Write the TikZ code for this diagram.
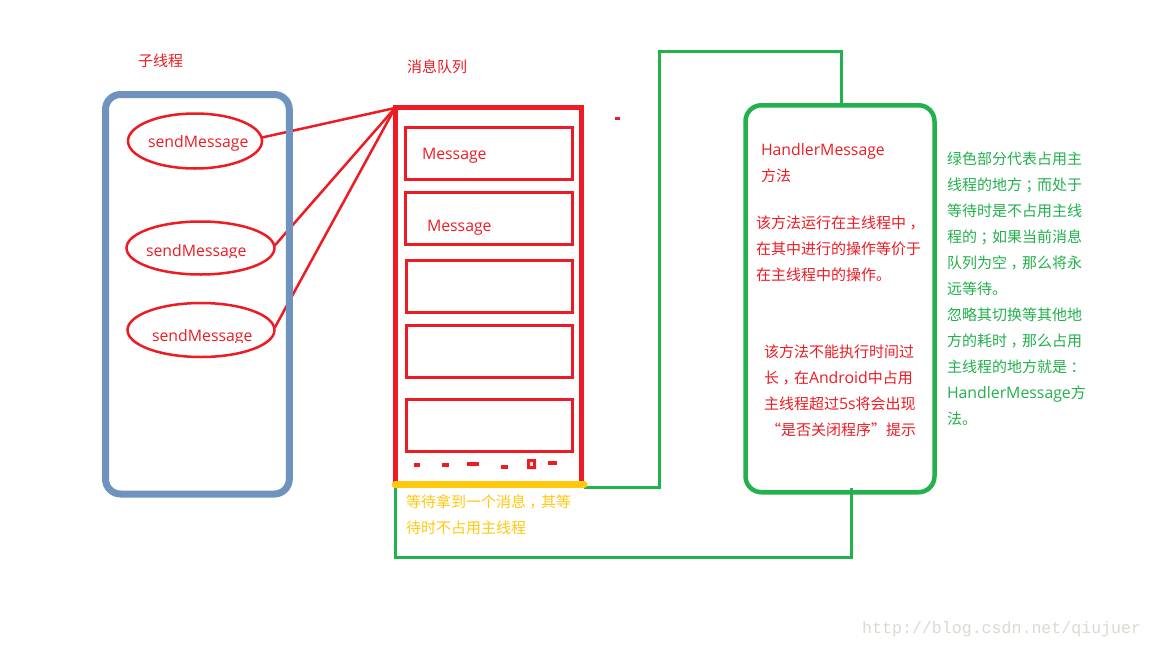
\documentclass[tikz,border=0pt]{standalone}
\usepackage{fontspec}
\setmainfont{Noto Sans CJK SC}
\newfontfamily\wmfont{Liberation Mono}
\newfontfamily\latf[Scale=1.055]{Open Sans}
\newcommand{\pc}[1]{\hspace{3.5pt}#1\hspace{-3.5pt}}
\definecolor{rd}{HTML}{ED1C24}
\definecolor{grn}{HTML}{22B14C}
\definecolor{blu}{HTML}{7092BE}
\definecolor{yel}{HTML}{FFC90E}
\tikzset{
  txt/.style={inner sep=0pt,outer sep=0pt,anchor=base west,align=left,font=\fontsize{15}{26}\selectfont},
  slot/.style={draw=rd,line width=3pt,fill=none},
  tick/.style={fill=rd,draw=none},
  wire/.style={draw=grn,line width=3pt},
  feed/.style={draw=rd,line width=2.5pt}
}
\usetikzlibrary{shapes.geometric}
\begin{document}
\begin{tikzpicture}[x=1pt,y=-1pt]
\useasboundingbox (0,0) rectangle (1152,648);
\fill[white] (0,0) rectangle (1152,648);

% green connectors
\coordinate (barL) at (395.3,484.8);
\coordinate (barR) at (584,484.8);
\coordinate (upA) at (659.3,487.3);
\coordinate (upB) at (659.3,51);
\coordinate (hTop) at (841,105);
\coordinate (hBot) at (851.3,487.7);
\coordinate (loA) at (851.3,557.3);
\coordinate (loB) at (395.3,557.3);
\draw[wire] (barR |- upA) -- (upA) -- (upB) -| (hTop);
\draw[wire] (hBot) -- (loA) -- (loB) -- (barL);

% queue
\node[draw=rd,line width=5pt,minimum width=185.8pt,minimum height=375.5pt,inner sep=0pt,outer sep=0pt] (queue) at (488.6,295.25) {};
\coordinate (qc) at (395,108);

% ovals
\node[ellipse,draw=none,minimum width=135pt,minimum height=56pt,inner sep=0pt] (e1) at (195,141) {};
\node[ellipse,draw=none,minimum width=149pt,minimum height=54pt,inner sep=0pt] (e2) at (200.5,248) {};
\node[ellipse,draw=none,minimum width=148pt,minimum height=55pt,inner sep=0pt] (e3) at (201,330) {};

\draw[feed] (e1.3) -- (qc);
\draw[feed] (e2.2) -- (qc);
\draw[feed] (e3.2) -- (qc);

% blue box
\node[draw=blu,line width=7pt,rounded corners=15pt,minimum width=183.8pt,minimum height=399.5pt,inner sep=0pt] (thread) at (197.4,294.25) {};

% oval outlines on top
\draw[rd,line width=2.5pt] (195,141) ellipse [x radius=67,y radius=27.5];
\draw[rd,line width=2.5pt] (200.5,248) ellipse [x radius=74,y radius=26.5];
\draw[rd,line width=2.5pt] (201,330) ellipse [x radius=73.5,y radius=27];

\node[txt,text=rd] (t1) at (148,147) {\latf sendMessage};
\begin{scope}
\clip (130,235) rectangle (270,257);
\node[txt,text=rd] (t2) at (146,256) {\latf sendMessage};
\end{scope}
\begin{scope}
\clip (130,320) rectangle (270,342.5);
\node[txt,text=rd] (t3) at (152,341.5) {\latf sendMessage};
\end{scope}

% slots
\draw[slot] (405,127) rectangle (572,179.5);
\draw[slot] (405,192) rectangle (572,244.5);
\draw[slot] (406,260) rectangle (572.5,312.5);
\draw[slot] (406,325) rectangle (572.5,377.5);
\draw[slot] (406.5,399.5) rectangle (572.5,451.2);

\node[txt,text=rd] (m1) at (422,159) {\latf Message};
\node[txt,text=rd] (m2) at (427,231) {\latf Message};

% ticks
\fill[tick] (414,463) rectangle (420,467);
\fill[tick] (442,463) rectangle (449,467);
\fill[tick] (467,462) rectangle (479,466);
\fill[tick] (501,465) rectangle (508,469);
\fill[tick,even odd rule] (527,459) rectangle (536,469) (530,462) rectangle (533,466);
\fill[tick] (548,461) rectangle (557,465);
\fill[tick] (615,117) rectangle (620,120);

% yellow bar
\draw[yel,line width=7pt,line cap=round] (barL) -- (barR);

% handler
\node[draw=grn,line width=4.5pt,rounded corners=16pt,minimum width=189pt,minimum height=387pt,inner sep=0pt] (handler) at (840,298.75) {};

% labels
\node[txt,text=rd] (lt) at (138,66) {子线程};
\node[txt,text=rd] (lq) at (407,72) {消息队列};
\node[txt,text=yel,anchor=north west] (ly) at (406,495) {等待拿到一个消息\pc{，}其等\\待时不占用主线程};
\node[txt,text=rd] (hm) at (761,155.5) {\latf HandlerMessage};
\node[txt,text=rd] (hf) at (761,181) {方法};
\node[txt,text=rd,anchor=north west] (b1) at (756,216) {该方法运行在主线程中\pc{，}\\在其中进行的操作等价于\\在主线程中的操作。};
\node[txt,text=rd,anchor=north west] (b2) at (764,345) {该方法不能执行时间过\\长\pc{，}在{\latf Android}中占用\\主线程超过{\latf 5s}将会出现\\\hspace*{2pt}“是否关闭程序”提示};
\node[txt,text=grn,anchor=north west] (g1) at (947,152) {绿色部分代表占用主\\线程的地方\pc{；}而处于\\等待时是不占用主线\\程的\pc{；}如果当前消息\\队列为空\pc{，}那么将永\\远等待。\\忽略其切换等其他地\\方的耗时\pc{，}那么占用\\主线程的地方就是\pc{：}\\{\latf HandlerMessage}方\\法。};
\node[inner sep=0pt,anchor=base west,text={rgb,255:red,218;green,218;blue,210},font=\wmfont\fontsize{16.6}{20}\selectfont] (wm) at (862,633) {http://blog.csdn.net/qiujuer};
\end{tikzpicture}
\end{document}
